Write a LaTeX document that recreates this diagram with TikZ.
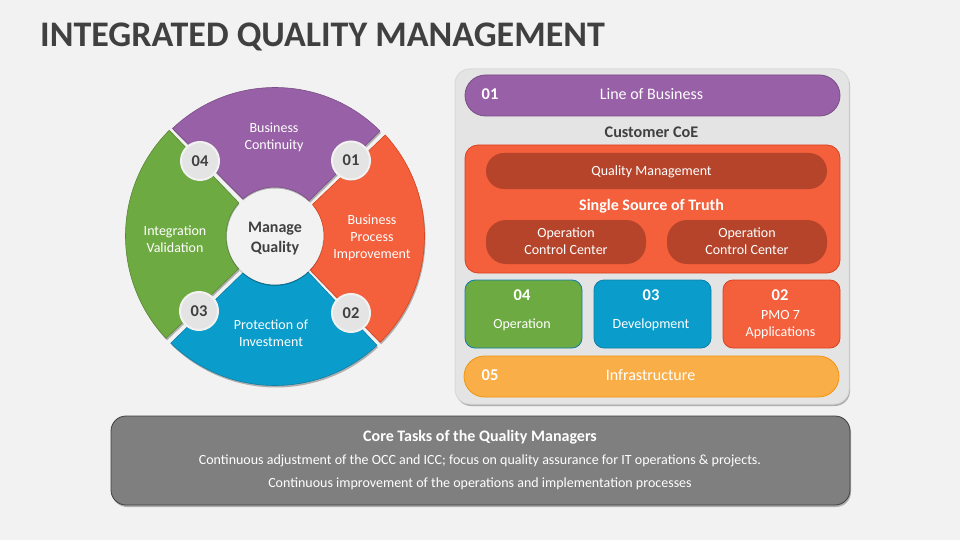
\documentclass[tikz,border=0pt]{standalone}
\usepackage{fontspec}
\setmainfont{Carlito}
\usetikzlibrary{shadows}
\definecolor{bg}{HTML}{F2F2F2}
\definecolor{panel}{HTML}{E4E4E4}
\definecolor{purp}{HTML}{9860A6}
\definecolor{purpd}{HTML}{7A4D87}
\definecolor{oran}{HTML}{F45F3C}
\definecolor{orand}{HTML}{D9421E}
\definecolor{brick}{HTML}{B5442B}
\definecolor{grn}{HTML}{6EAA42}
\definecolor{blu}{HTML}{0A9DCB}
\definecolor{blud}{HTML}{0E7EA6}
\definecolor{yel}{HTML}{FAAE48}
\definecolor{yeld}{HTML}{F0950F}
\definecolor{ink}{HTML}{404040}
\definecolor{greybox}{HTML}{7F7F7F}
\tikzset{
  softshadow/.style={drop shadow={shadow xshift=1pt,shadow yshift=-2pt,opacity=.28,fill=black}},
  box/.style={rectangle,draw,line width=.8pt,inner sep=0pt,outer sep=0pt,align=center,text=white,font=\fontsize{16}{18}\selectfont},
  seglabel/.style={text=white,align=center,font=\fontsize{14}{17.2}\selectfont},
  smalltxt/.style={text=white,align=center,font=\fontsize{14}{17}\selectfont},
  numw/.style={text=white,font=\bfseries\fontsize{16.5}{18}\selectfont},
  numd/.style={text=ink,font=\bfseries\fontsize{16.5}{18}\selectfont},
  badge/.style={circle,fill=panel,draw=bg,line width=2pt,minimum size=38pt,inner sep=0pt,outer sep=0pt,drop shadow={shadow xshift=0pt,shadow yshift=-1pt,opacity=.2,fill=black}},
  darkpill/.style={rectangle,fill=brick,inner sep=0pt,outer sep=0pt,align=center,text=white,font=\fontsize{14}{17}\selectfont},
}
\begin{document}
\begin{tikzpicture}[x=1pt,y=-1pt]
\fill[bg] (0,0) rectangle (960,540);
\useasboundingbox (0,0) rectangle (960,540);
\node[anchor=west,text=ink,font=\bfseries\fontsize{36}{40}\selectfont,inner sep=0pt] (title) at (40,37) {INTEGRATED QUALITY MANAGEMENT};
% wheel
\begin{scope}[shift={(275,236)},x=1pt,y=1pt,line width=.6pt]
\filldraw[fill=purp,draw=purpd,softshadow] (133.6:148.5) arc[start angle=133.6,end angle=45,radius=148.5] -- (46:49) arc[start angle=46,end angle=131,radius=49] -- cycle;
\filldraw[fill=oran,draw=orand,softshadow] (42.5:149.5) arc[start angle=42.5,end angle=-45.3,radius=149.5] -- (-44:49) arc[start angle=-44,end angle=40,radius=49] -- cycle;
\filldraw[fill=blu,draw=blud,softshadow] (-47:149.5) arc[start angle=-47,end angle=-134.2,radius=149.5] -- (-131:49) arc[start angle=-131,end angle=-47.4,radius=49] -- cycle;
\filldraw[fill=grn,draw=grn!80!black,softshadow] (-136.8:149.5) arc[start angle=-136.8,end angle=-225,radius=149.5] -- (-222.5:49) arc[start angle=-222.5,end angle=-138,radius=49] -- cycle;
\end{scope}
\node[circle,fill=bg,minimum size=96pt,inner sep=0pt,drop shadow={shadow xshift=0pt,shadow yshift=-1.5pt,opacity=.2,fill=black}] (centre) at (275,236.5) {};
\node[align=center,text=ink,font=\bfseries\fontsize{16}{19.5}\selectfont] (centret) at (275,238.5) {Manage\\Quality};
\node[badge] (b1) at (351,160.5) {}; \node[numd] (n1) at (b1) {01};
\node[badge] (b2) at (351,313) {}; \node[numd] (n2) at (b2) {02};
\node[badge] (b3) at (199,311) {}; \node[numd] (n3) at (b3) {03};
\node[badge] (b4) at (200,161) {}; \node[numd] (n4) at (b4) {04};
\node[seglabel] (s1) at (274,137) {Business\\Continuity};
\node[seglabel] (s2) at (372,238) {Business\\Process\\Improvement};
\node[seglabel] (s3) at (271,333) {Protection of\\Investment};
\node[seglabel] (s4) at (175,239) {Integration\\Validation};
% panel
\node[box,fill=panel,draw=black!15,line width=1pt,rounded corners=15pt,minimum width=394pt,minimum height=335pt,softshadow] (panel) at (652,236.5) {};
\node[box,fill=purp,draw=purpd,rounded corners=20.5pt,minimum width=375pt,minimum height=41pt] (lob) at (652.5,95.5) {};
\node[text=white,font=\fontsize{16}{18}\selectfont] (lobt) at (651.5,94) {Line of Business};
\node[numw] (lobn) at (490,94.5) {01};
\node[text=ink,font=\bfseries\fontsize{16.2}{18}\selectfont] (coe) at (651.5,132) {Customer CoE};
\node[box,fill=oran,draw=orand,rounded corners=13pt,minimum width=375pt,minimum height=128pt] (single) at (652.5,209) {};
\node[darkpill,rounded corners=18pt,minimum width=341pt,minimum height=36pt] (qm) at (656.5,171) {};
\node[text=white,font=\fontsize{14}{17}\selectfont] (qmt) at (651.5,172) {Quality Management};
\node[text=white,font=\bfseries\fontsize{16}{18}\selectfont] (sst) at (651.5,206) {Single Source of Truth};
\node[darkpill,rounded corners=20pt,minimum width=160pt,minimum height=44pt] (occ1) at (566,242) {};
\node[darkpill,rounded corners=20pt,minimum width=160pt,minimum height=44pt] (occ2) at (747,242) {};
\node[smalltxt] (occ1t) at (566,241) {Operation\\Control Center};
\node[smalltxt] (occ2t) at (747,241) {Operation\\Control Center};
\node[box,fill=grn,draw=blud,rounded corners=10pt,minimum width=117pt,minimum height=68pt] (g4) at (523.5,314) {};
\node[box,fill=blu,draw=blud,rounded corners=10pt,minimum width=117pt,minimum height=68pt] (g3) at (652.5,314) {};
\node[box,fill=oran,draw=orand,rounded corners=10pt,minimum width=117pt,minimum height=68pt] (g2) at (781.5,314) {};
\node[numw] (g4n) at (522,295.5) {04};
\node[numw] (g3n) at (651,295.5) {03};
\node[numw] (g2n) at (780,295.5) {02};
\node[smalltxt] (g4t) at (522,324.5) {Operation};
\node[smalltxt] (g3t) at (651,324.5) {Development};
\node[smalltxt] (g2t) at (780.5,324.5) {PMO 7\\Applications};
\node[box,fill=yel,draw=yeld,rounded corners=20.5pt,minimum width=375pt,minimum height=41pt] (inf) at (651.5,376.5) {};
\node[text=white,font=\fontsize{16}{18}\selectfont] (inft) at (650.5,375.5) {Infrastructure};
\node[numw] (infn) at (490,375.5) {05};
% bottom
\node[box,fill=greybox,draw=ink,rounded corners=15pt,minimum width=739pt,minimum height=89pt,softshadow] (core) at (480.5,460.5) {};
\node[text=white,font=\bfseries\fontsize{16}{18}\selectfont] (coret) at (480,437) {Core Tasks of the Quality Managers};
\node[text=white,font=\fontsize{14}{17}\selectfont] (core1) at (480,461) {Continuous adjustment of the OCC and ICC; focus on quality assurance for IT operations \& projects.};
\node[text=white,font=\fontsize{14}{17}\selectfont] (core2) at (480,484) {Continuous improvement of the operations and implementation processes};
\end{tikzpicture}
\end{document}
